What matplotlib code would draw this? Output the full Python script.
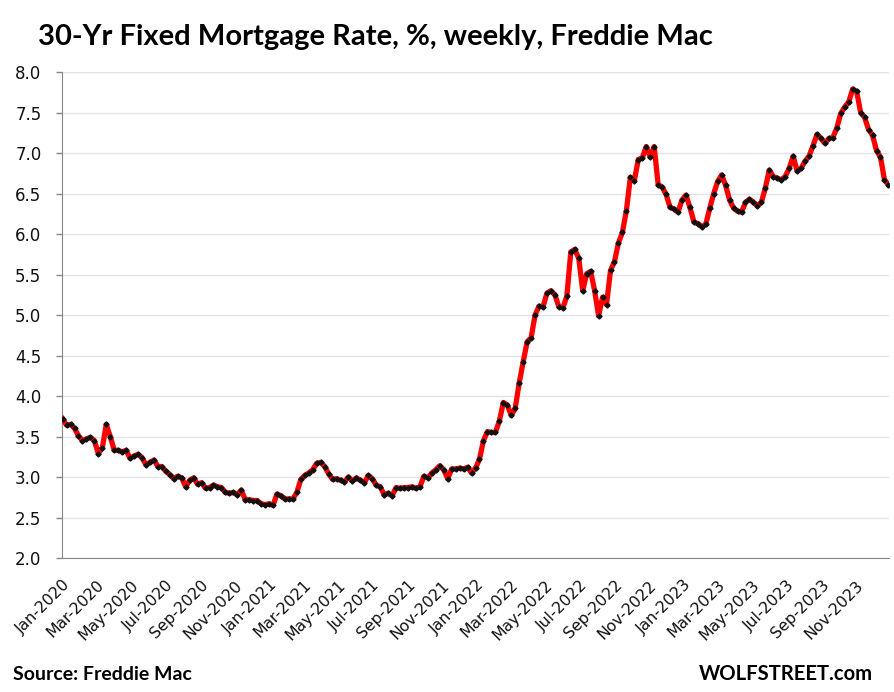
import numpy as np
import pandas as pd
import matplotlib
matplotlib.use("Agg")
import matplotlib.pyplot as plt
import matplotlib.dates as mdates

plt.rcParams["font.family"] = ["DejaVu Sans"]

# weekly 30-yr fixed rate, Freddie Mac PMMS
rates_2020 = [3.72, 3.64, 3.65, 3.60, 3.51, 3.45, 3.47, 3.49, 3.45, 3.29, 3.36, 3.65, 3.50,
              3.33, 3.33, 3.31, 3.33, 3.23, 3.26, 3.28, 3.24, 3.15, 3.18, 3.21, 3.13, 3.13,
              3.07, 3.03, 2.98, 3.01, 2.99, 2.88, 2.96, 2.99, 2.91, 2.93, 2.86, 2.87, 2.90,
              2.88, 2.87, 2.81, 2.80, 2.81, 2.78, 2.84, 2.72, 2.72, 2.71, 2.71, 2.67, 2.66, 2.67]
rates_2021 = [2.65, 2.79, 2.77, 2.73, 2.73, 2.73, 2.81, 2.97, 3.02, 3.05, 3.09, 3.17, 3.18,
              3.13, 3.04, 2.97, 2.98, 2.96, 2.94, 3.00, 2.95, 2.99, 2.96, 2.93, 3.02, 2.98,
              2.90, 2.88, 2.78, 2.80, 2.77, 2.87, 2.86, 2.87, 2.87, 2.88, 2.86, 2.88, 3.01,
              2.99, 3.05, 3.09, 3.14, 3.09, 2.98, 3.10, 3.10, 3.11, 3.10, 3.12, 3.05, 3.11]
rates_2022 = [3.22, 3.45, 3.56, 3.55, 3.55, 3.69, 3.92, 3.89, 3.76, 3.85, 4.16, 4.42, 4.67,
              4.72, 5.00, 5.11, 5.10, 5.27, 5.30, 5.25, 5.10, 5.09, 5.23, 5.78, 5.81, 5.70,
              5.30, 5.51, 5.54, 5.30, 4.99, 5.22, 5.13, 5.55, 5.66, 5.89, 6.02, 6.29, 6.70,
              6.66, 6.92, 6.94, 7.08, 6.95, 7.08, 6.61, 6.58, 6.49, 6.33, 6.31, 6.27, 6.42]
rates_2023 = [6.48, 6.33, 6.15, 6.13, 6.09, 6.12, 6.32, 6.50, 6.65, 6.73, 6.60, 6.42, 6.32,
              6.28, 6.27, 6.39, 6.43, 6.39, 6.35, 6.39, 6.57, 6.79, 6.71, 6.69, 6.67, 6.71,
              6.81, 6.96, 6.78, 6.81, 6.90, 6.96, 7.09, 7.23, 7.18, 7.12, 7.18, 7.19, 7.31,
              7.49, 7.57, 7.63, 7.79, 7.76, 7.50, 7.44, 7.29, 7.22, 7.03, 6.95, 6.67, 6.61]

rates = rates_2020 + rates_2021 + rates_2022 + rates_2023
dates = pd.date_range("2020-01-02", periods=len(rates), freq="W-THU")

title = "30-Yr Fixed Mortgage Rate, %, weekly, Freddie Mac"
source = "Source: Freddie Mac"
brand = "WOLFSTREET.com"

fig = plt.figure(figsize=(8.94, 6.92), dpi=100)
ax = fig.add_axes([0.0694, 0.1936, 0.925, 0.7023])

ax.plot(dates, rates, color="#ff0000", linewidth=3.8, solid_joinstyle="round", zorder=3)
ax.plot(dates, rates, linestyle="none", marker="D", markersize=2.6,
        color="#111111", zorder=4)

ax.set_ylim(2.0, 8.0)
ax.set_yticks(np.arange(2.0, 8.01, 0.5))
ax.yaxis.set_major_formatter(matplotlib.ticker.FormatStrFormatter("%.1f"))
ax.set_xlim(pd.Timestamp("2020-01-01"), dates[-1] + pd.Timedelta(days=1))
ax.xaxis.set_major_locator(mdates.MonthLocator(bymonth=[1, 3, 5, 7, 9, 11]))
ax.xaxis.set_major_formatter(mdates.DateFormatter("%b-%Y"))

ax.grid(axis="y", color="#e2e2ea", linewidth=1.0, zorder=0)
for s in ["top", "right"]:
    ax.spines[s].set_visible(False)
ax.spines["left"].set_color("#888888")
ax.spines["bottom"].set_color("#888888")
ax.tick_params(axis="y", length=4.3, width=1, color="#888888", labelsize=12, pad=10.5,
               labelcolor="#111111")
ax.tick_params(axis="x", length=0, labelsize=11.3, pad=14, labelcolor="#111111")
for lbl in ax.get_xticklabels():
    lbl.set_rotation(45)
    lbl.set_ha("right")
    lbl.set_rotation_mode("anchor")

fig.text(0.042, 0.935, title, fontsize=21, fontweight="bold", family="Lato", va="baseline")
fig.text(0.015, 0.017, source, fontsize=14, fontweight="bold", family="Lato", va="baseline")
fig.text(0.976, 0.017, brand, fontsize=14.6, fontweight="bold", family="Lato", va="baseline",
         ha="right")

fig.savefig("out.png", dpi=100)
